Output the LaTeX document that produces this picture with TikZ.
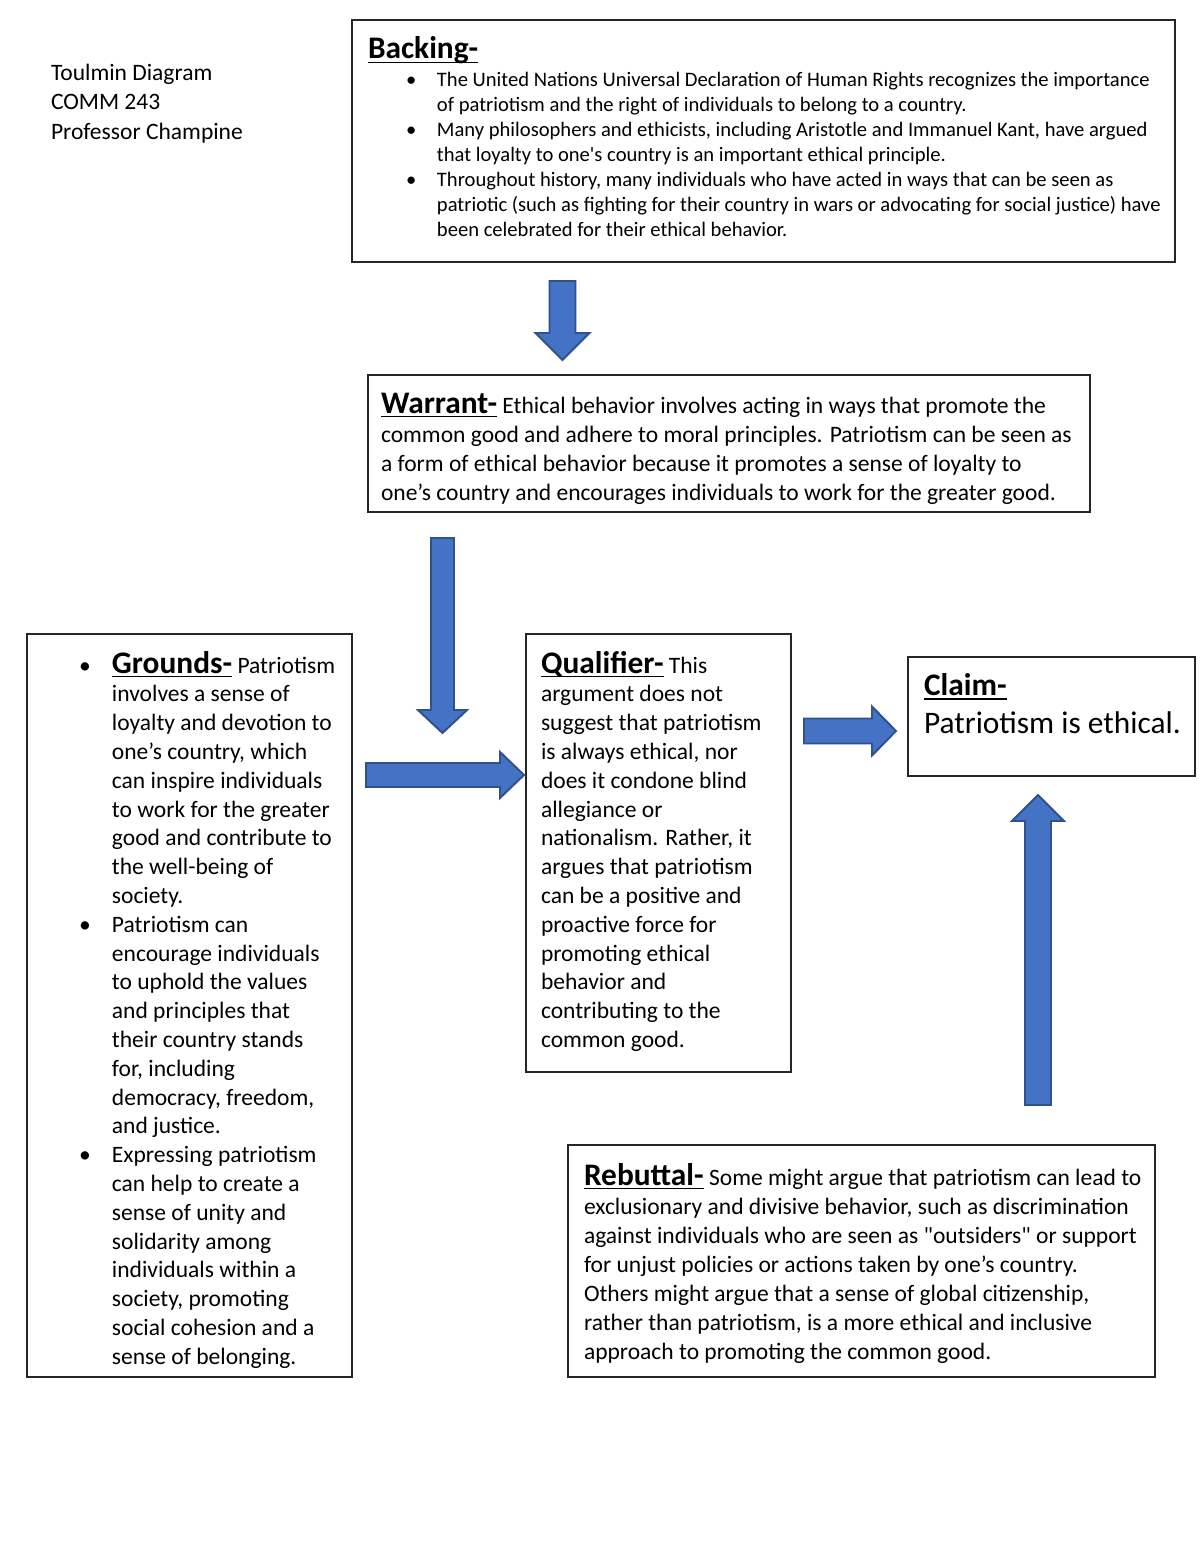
\documentclass[tikz,border=0pt]{standalone}
\usepackage{fontspec}
\setmainfont{Carlito}[Ligatures=TeXOff]
\usetikzlibrary{calc,fit}
\definecolor{arrfillc}{HTML}{4472C4}
\definecolor{arrdrawc}{HTML}{2F528F}
\newcommand\ttl[1]{\setbox0\hbox{\fontsize{16}{16}\selectfont\bfseries #1}\leavevmode\rlap{\rule[-2.2pt]{\wd0}{0.9pt}}\box0\relax}
\newcommand\blockarr[5]{%
  \coordinate (ba-h) at ($(#2)!#5!(#1)$);
  \draw[blockarrow] ($(#1)!#3!90:(#2)$) -- ($(ba-h)!#3!-90:(#1)$) -- ($(ba-h)!#4!-90:(#1)$) -- (#2)
    -- ($(ba-h)!#4!90:(#1)$) -- ($(ba-h)!#3!90:(#1)$) -- ($(#1)!#3!-90:(#2)$) -- cycle;}
\tikzset{
  box/.style={draw=black!85, line width=0.9pt, inner sep=0pt},
  txt/.style={anchor=base west, inner sep=0pt, outer sep=0pt},
  blockarrow/.style={fill=arrfillc, draw=arrdrawc, line width=1pt, line join=miter},
}
\begin{document}
\begin{tikzpicture}[x=0.51pt,y=-0.51pt]
\useasboundingbox (0,0) rectangle (1200,1553);
\fill[white] (0,0) rectangle (1200,1553);

% header
\node[txt] (hdr) at (51,80.5) {\fontsize{12}{15}\selectfont
\begin{tabular}[t]{@{}l@{}}Toulmin Diagram\\ COMM 243\\ Professor Champine\end{tabular}};

% boxes
\node[box, fit={(352,20) (1175,262)}] (backing) {};
\node[box, fit={(368,375) (1090,512)}] (warrant) {};
\node[box, fit={(27,634) (352,1377)}] (grounds) {};
\node[box, fit={(526,634) (791,1072)}] (qualifier) {};
\node[box, fit={(908,657) (1195,776)}] (claim) {};
\node[box, fit={(568,1145) (1155,1377)}] (rebuttal) {};

% backing text
\node[txt] (backingtitle) at (368,59) {\ttl{Backing-}};
\node[txt] (backingtext) at (406,87) {\fontsize{10.5}{12.75}\selectfont
\begin{tabular}[t]{@{}p{15.8pt}@{}l@{}}
\textbullet & The United Nations Universal Declaration of Human Rights recognizes the importance\\
 & of patriotism and the right of individuals to belong to a country.\\
\textbullet & Many philosophers and ethicists, including Aristotle and Immanuel Kant, have argued\\
 & that loyalty to one's country is an important ethical principle.\\
\textbullet & Throughout history, many individuals who have acted in ways that can be seen as\\
 & patriotic (such as fighting for their country in wars or advocating for social justice) have\\
 & been celebrated for their ethical behavior.
\end{tabular}};

% warrant text
\node[txt] (warranttext) at (381,413) {\fontsize{12}{14.79}\selectfont
\begin{tabular}[t]{@{}l@{}}
\ttl{Warrant-} Ethical behavior involves acting in ways that promote the\\
common good and adhere to moral principles. Patriotism can be seen as\\
a form of ethical behavior because it promotes a sense of loyalty to\\
one’s country and encourages individuals to work for the greater good.
\end{tabular}};

% grounds text
\node[txt] (groundstext) at (79,673) {\fontsize{12}{14.69}\selectfont
\begin{tabular}[t]{@{}p{16.8pt}@{}l@{}}
\textbullet & \ttl{Grounds-} Patriotism\\
 & involves a sense of\\
 & loyalty and devotion to\\
 & one’s country, which\\
 & can inspire individuals\\
 & to work for the greater\\
 & good and contribute to\\
 & the well-being of\\
 & society.\\
\textbullet & Patriotism can\\
 & encourage individuals\\
 & to uphold the values\\
 & and principles that\\
 & their country stands\\
 & for, including\\
 & democracy, freedom,\\
 & and justice.\\
\textbullet & Expressing patriotism\\
 & can help to create a\\
 & sense of unity and\\
 & solidarity among\\
 & individuals within a\\
 & society, promoting\\
 & social cohesion and a\\
 & sense of belonging.
\end{tabular}};

% qualifier text
\node[txt] (qualifiertext) at (541,673) {\fontsize{12}{14.69}\selectfont
\begin{tabular}[t]{@{}l@{}}
\ttl{Qualifier-} This\\
argument does not\\
suggest that patriotism\\
is always ethical, nor\\
does it condone blind\\
allegiance or\\
nationalism. Rather, it\\
argues that patriotism\\
can be a positive and\\
proactive force for\\
promoting ethical\\
behavior and\\
contributing to the\\
common good.
\end{tabular}};

% claim text
\node[txt] (claimtitle) at (924,695.5) {\ttl{Claim-}};
\node[txt] (claimtext) at (924,733) {\fontsize{16}{19}\selectfont Patriotism is ethical.};

% rebuttal text
\node[txt] (rebuttaltext) at (584,1185) {\fontsize{12}{14.79}\selectfont
\begin{tabular}[t]{@{}l@{}}
\ttl{Rebuttal-} Some might argue that patriotism can lead to\\
exclusionary and divisive behavior, such as discrimination\\
against individuals who are seen as "outsiders" or support\\
for unjust policies or actions taken by one’s country.\\
Others might argue that a sense of global citizenship,\\
rather than patriotism, is a more ethical and inclusive\\
approach to promoting the common good.
\end{tabular}};

% block arrows
\coordinate (a1t) at (562.5,281);  \coordinate (a1p) at (562.5,360);
\coordinate (a2t) at (442.5,538);  \coordinate (a2p) at (442.5,733);
\coordinate (a3t) at (366,775);    \coordinate (a3p) at (524,775);
\coordinate (a4t) at (804,731);    \coordinate (a4p) at (896,731);
\coordinate (a5t) at (1038,1105);  \coordinate (a5p) at (1038,795);
\blockarr{a1t}{a1p}{6.63pt}{13.77pt}{13.77pt}
\blockarr{a2t}{a2p}{5.87pt}{12.5pt}{11.73pt}
\blockarr{a3t}{a3p}{6.12pt}{11.73pt}{12.24pt}
\blockarr{a4t}{a4p}{6.38pt}{12.5pt}{12.24pt}
\blockarr{a5t}{a5p}{6.63pt}{13.26pt}{13.26pt}
\end{tikzpicture}
\end{document}
